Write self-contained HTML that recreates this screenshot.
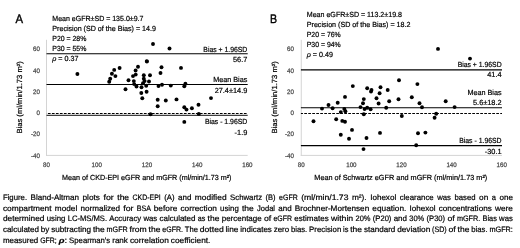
<!DOCTYPE html>
<html lang="en"><head><meta charset="utf-8"><title>Figure</title>
<style>
html,body{margin:0;padding:0;background:#fff;overflow:hidden;}
svg{display:block;font-family:"Liberation Sans", sans-serif;text-rendering:geometricPrecision;}
</style></head><body>
<svg width="520" height="248" viewBox="0 0 520 248">
<rect width="520" height="248" fill="#fff"/>
<line x1="46.5" y1="39.8" x2="46.5" y2="155.9" stroke="#d4d4d4" stroke-width="1"/>
<line x1="46.0" y1="155.4" x2="247.7" y2="155.4" stroke="#d4d4d4" stroke-width="1"/>
<text x="40" y="51.25" font-size="6.5" text-anchor="end" fill="#4a4a4a" stroke="#4a4a4a" stroke-width="0.25" textLength="6.89" lengthAdjust="spacingAndGlyphs">60</text>
<text x="40" y="72.55" font-size="6.5" text-anchor="end" fill="#4a4a4a" stroke="#4a4a4a" stroke-width="0.25" textLength="6.89" lengthAdjust="spacingAndGlyphs">40</text>
<text x="40" y="93.85" font-size="6.5" text-anchor="end" fill="#4a4a4a" stroke="#4a4a4a" stroke-width="0.25" textLength="6.89" lengthAdjust="spacingAndGlyphs">20</text>
<text x="40" y="115.15" font-size="6.5" text-anchor="end" fill="#4a4a4a" stroke="#4a4a4a" stroke-width="0.25" textLength="3.45" lengthAdjust="spacingAndGlyphs">0</text>
<text x="40" y="136.45" font-size="6.5" text-anchor="end" fill="#4a4a4a" stroke="#4a4a4a" stroke-width="0.25" textLength="8.98" lengthAdjust="spacingAndGlyphs">-20</text>
<text x="40" y="157.75" font-size="6.5" text-anchor="end" fill="#4a4a4a" stroke="#4a4a4a" stroke-width="0.25" textLength="8.98" lengthAdjust="spacingAndGlyphs">-40</text>
<text x="46.5" y="167.1" font-size="6.5" text-anchor="middle" fill="#4a4a4a" stroke="#4a4a4a" stroke-width="0.25" textLength="6.89" lengthAdjust="spacingAndGlyphs">80</text>
<text x="96.72" y="167.1" font-size="6.5" text-anchor="middle" fill="#4a4a4a" stroke="#4a4a4a" stroke-width="0.25" textLength="10.34" lengthAdjust="spacingAndGlyphs">100</text>
<text x="146.95" y="167.1" font-size="6.5" text-anchor="middle" fill="#4a4a4a" stroke="#4a4a4a" stroke-width="0.25" textLength="10.34" lengthAdjust="spacingAndGlyphs">120</text>
<text x="197.17" y="167.1" font-size="6.5" text-anchor="middle" fill="#4a4a4a" stroke="#4a4a4a" stroke-width="0.25" textLength="10.34" lengthAdjust="spacingAndGlyphs">140</text>
<text x="247.4" y="167.1" font-size="6.5" text-anchor="middle" fill="#4a4a4a" stroke="#4a4a4a" stroke-width="0.25" textLength="10.34" lengthAdjust="spacingAndGlyphs">160</text>
<text transform="translate(21.9,97.4) rotate(-90)" font-size="7.4" text-anchor="middle" stroke="#000" stroke-width="0.2" textLength="72.42" lengthAdjust="spacingAndGlyphs">Bias (ml/min/1.73 m²)</text>
<text x="146.8" y="180.1" font-size="7.4" text-anchor="middle" fill="#000" stroke="#000" stroke-width="0.2" textLength="169.36" lengthAdjust="spacingAndGlyphs">Mean of CKD-EPI eGFR and mGFR (ml/min/1.73 m²)</text>
<text x="15.4" y="22.8" font-size="12.3" text-anchor="start" fill="#000" stroke="#000" stroke-width="0.4" textLength="7.53" lengthAdjust="spacingAndGlyphs">A</text>
<text x="52.3" y="21.1" font-size="7.4" text-anchor="start" fill="#000" stroke="#000" stroke-width="0.2" textLength="91.14" lengthAdjust="spacingAndGlyphs">Mean eGFR±SD = 135.0±9.7</text>
<text x="52.3" y="31.1" font-size="7.4" text-anchor="start" fill="#000" stroke="#000" stroke-width="0.2" textLength="103.66" lengthAdjust="spacingAndGlyphs">Precision (SD of the Bias) = 14.9</text>
<text x="52.3" y="41.1" font-size="7.4" text-anchor="start" fill="#000" stroke="#000" stroke-width="0.2" textLength="34.02" lengthAdjust="spacingAndGlyphs">P20 = 28%</text>
<text x="52.3" y="51.1" font-size="7.4" text-anchor="start" fill="#000" stroke="#000" stroke-width="0.2" textLength="34.02" lengthAdjust="spacingAndGlyphs">P30 = 55%</text>
<text x="52.3" y="61.1" font-size="7.4" text-anchor="start" fill="#000" stroke="#000" stroke-width="0.2" textLength="26.12" lengthAdjust="spacingAndGlyphs"><tspan font-style="italic">ρ</tspan> = 0.37</text>
<line x1="46.5" y1="113.5" x2="247.7" y2="113.5" stroke="#000" stroke-width="1.1" stroke-dasharray="2.7 1.3" stroke-dashoffset="2.6"/>
<line x1="46.5" y1="53.75" x2="247.7" y2="53.75" stroke="#000" stroke-width="1.15"/>
<text x="247.29999999999998" y="52.0" font-size="7.4" text-anchor="end" fill="#000" stroke="#000" stroke-width="0.2" textLength="43.97" lengthAdjust="spacingAndGlyphs">Bias + 1.96SD</text>
<text x="247.29999999999998" y="61.6" font-size="7.4" text-anchor="end" fill="#000" stroke="#000" stroke-width="0.2" textLength="14.33" lengthAdjust="spacingAndGlyphs">56.7</text>
<line x1="46.5" y1="84.5" x2="247.7" y2="84.5" stroke="#000" stroke-width="1.15"/>
<text x="247.29999999999998" y="82.4" font-size="7.4" text-anchor="end" fill="#000" stroke="#000" stroke-width="0.2" textLength="34.16" lengthAdjust="spacingAndGlyphs">Mean Bias</text>
<text x="247.29999999999998" y="92.6" font-size="7.4" text-anchor="end" fill="#000" stroke="#000" stroke-width="0.2" textLength="32.67" lengthAdjust="spacingAndGlyphs">27.4±14.9</text>
<line x1="46.5" y1="115.3" x2="247.7" y2="115.3" stroke="#000" stroke-width="0.95"/>
<text x="247.29999999999998" y="124.3" font-size="7.4" text-anchor="end" fill="#000" stroke="#000" stroke-width="0.2" textLength="42.42" lengthAdjust="spacingAndGlyphs">Bias - 1.96SD</text>
<text x="247.29999999999998" y="134.8" font-size="7.4" text-anchor="end" fill="#000" stroke="#000" stroke-width="0.2" textLength="12.7" lengthAdjust="spacingAndGlyphs">-1.9</text>
<circle cx="146.9" cy="61.6" r="1.95"/>
<circle cx="138" cy="66.7" r="1.95"/>
<circle cx="119.6" cy="68.0" r="1.95"/>
<circle cx="114.2" cy="69.9" r="1.95"/>
<circle cx="77.4" cy="74.0" r="1.95"/>
<circle cx="111.9" cy="73.7" r="1.95"/>
<circle cx="135.6" cy="70.5" r="1.95"/>
<circle cx="115.4" cy="76.1" r="1.95"/>
<circle cx="110.2" cy="78.8" r="1.95"/>
<circle cx="109.2" cy="81.8" r="1.95"/>
<circle cx="135.7" cy="74.6" r="1.95"/>
<circle cx="133" cy="76.1" r="1.95"/>
<circle cx="128.5" cy="80.3" r="1.95"/>
<circle cx="133.8" cy="81.1" r="1.95"/>
<circle cx="134.2" cy="84.1" r="1.95"/>
<circle cx="136.5" cy="86.5" r="1.95"/>
<circle cx="125.5" cy="89.2" r="1.95"/>
<circle cx="143.8" cy="75.3" r="1.95"/>
<circle cx="143.8" cy="78.8" r="1.95"/>
<circle cx="144.6" cy="81.1" r="1.95"/>
<circle cx="143" cy="83.3" r="1.95"/>
<circle cx="146.2" cy="85.7" r="1.95"/>
<circle cx="141.5" cy="87.3" r="1.95"/>
<circle cx="141.3" cy="93.0" r="1.95"/>
<circle cx="146.6" cy="91.8" r="1.95"/>
<circle cx="150" cy="75.3" r="1.95"/>
<circle cx="149" cy="81.5" r="1.95"/>
<circle cx="161.5" cy="67.3" r="1.95"/>
<circle cx="160.5" cy="73.0" r="1.95"/>
<circle cx="158.5" cy="86.1" r="1.95"/>
<circle cx="162" cy="84.7" r="1.95"/>
<circle cx="170.8" cy="85.6" r="1.95"/>
<circle cx="181" cy="67.9" r="1.95"/>
<circle cx="142.3" cy="98.3" r="1.95"/>
<circle cx="185.4" cy="83.7" r="1.95"/>
<circle cx="184.3" cy="86.3" r="1.95"/>
<circle cx="157.7" cy="99.8" r="1.95"/>
<circle cx="165.8" cy="100.5" r="1.95"/>
<circle cx="176.5" cy="99.4" r="1.95"/>
<circle cx="157.7" cy="106.3" r="1.95"/>
<circle cx="184.3" cy="107.2" r="1.95"/>
<circle cx="186.5" cy="109.6" r="1.95"/>
<circle cx="191.9" cy="108.2" r="1.95"/>
<circle cx="198.5" cy="104.7" r="1.95"/>
<circle cx="150.5" cy="114.3" r="1.95"/>
<circle cx="198.8" cy="113.9" r="1.95"/>
<circle cx="184.3" cy="121.9" r="1.95"/>
<circle cx="211" cy="98.1" r="1.95"/>
<circle cx="153" cy="44.05" r="1.95"/>
<circle cx="169.5" cy="48.5" r="1.95"/>
<circle cx="146.8" cy="61.1" r="1.95"/>
<line x1="301.25" y1="39.8" x2="301.25" y2="155.9" stroke="#d4d4d4" stroke-width="1"/>
<line x1="300.75" y1="155.4" x2="502.0" y2="155.4" stroke="#d4d4d4" stroke-width="1"/>
<text x="294" y="51.25" font-size="6.5" text-anchor="end" fill="#4a4a4a" stroke="#4a4a4a" stroke-width="0.25" textLength="6.89" lengthAdjust="spacingAndGlyphs">60</text>
<text x="294" y="72.55" font-size="6.5" text-anchor="end" fill="#4a4a4a" stroke="#4a4a4a" stroke-width="0.25" textLength="6.89" lengthAdjust="spacingAndGlyphs">40</text>
<text x="294" y="93.85" font-size="6.5" text-anchor="end" fill="#4a4a4a" stroke="#4a4a4a" stroke-width="0.25" textLength="6.89" lengthAdjust="spacingAndGlyphs">20</text>
<text x="294" y="115.15" font-size="6.5" text-anchor="end" fill="#4a4a4a" stroke="#4a4a4a" stroke-width="0.25" textLength="3.45" lengthAdjust="spacingAndGlyphs">0</text>
<text x="294" y="136.45" font-size="6.5" text-anchor="end" fill="#4a4a4a" stroke="#4a4a4a" stroke-width="0.25" textLength="8.98" lengthAdjust="spacingAndGlyphs">-20</text>
<text x="294" y="157.75" font-size="6.5" text-anchor="end" fill="#4a4a4a" stroke="#4a4a4a" stroke-width="0.25" textLength="8.98" lengthAdjust="spacingAndGlyphs">-40</text>
<text x="301.25" y="167.1" font-size="6.5" text-anchor="middle" fill="#4a4a4a" stroke="#4a4a4a" stroke-width="0.25" textLength="6.89" lengthAdjust="spacingAndGlyphs">80</text>
<text x="351.36" y="167.1" font-size="6.5" text-anchor="middle" fill="#4a4a4a" stroke="#4a4a4a" stroke-width="0.25" textLength="10.34" lengthAdjust="spacingAndGlyphs">100</text>
<text x="401.48" y="167.1" font-size="6.5" text-anchor="middle" fill="#4a4a4a" stroke="#4a4a4a" stroke-width="0.25" textLength="10.34" lengthAdjust="spacingAndGlyphs">120</text>
<text x="451.59" y="167.1" font-size="6.5" text-anchor="middle" fill="#4a4a4a" stroke="#4a4a4a" stroke-width="0.25" textLength="10.34" lengthAdjust="spacingAndGlyphs">140</text>
<text x="501.7" y="167.1" font-size="6.5" text-anchor="middle" fill="#4a4a4a" stroke="#4a4a4a" stroke-width="0.25" textLength="10.34" lengthAdjust="spacingAndGlyphs">160</text>
<text transform="translate(276.65,97.4) rotate(-90)" font-size="7.4" text-anchor="middle" stroke="#000" stroke-width="0.2" textLength="72.42" lengthAdjust="spacingAndGlyphs">Bias (ml/min/1.73 m²)</text>
<text x="400.8" y="180.1" font-size="7.4" text-anchor="middle" fill="#000" stroke="#000" stroke-width="0.2" textLength="172.98" lengthAdjust="spacingAndGlyphs">Mean of Schwartz eGFR and mGFR (ml/min/1.73 m²)</text>
<text x="270" y="22.8" font-size="12.3" text-anchor="start" fill="#000" stroke="#000" stroke-width="0.4" textLength="7.08" lengthAdjust="spacingAndGlyphs">B</text>
<text x="306.75" y="17.3" font-size="7.4" text-anchor="start" fill="#000" stroke="#000" stroke-width="0.2" textLength="95.23" lengthAdjust="spacingAndGlyphs">Mean eGFR±SD = 113.2±19.8</text>
<text x="306.75" y="27.3" font-size="7.4" text-anchor="start" fill="#000" stroke="#000" stroke-width="0.2" textLength="103.66" lengthAdjust="spacingAndGlyphs">Precision (SD of the Bias) = 18.2</text>
<text x="306.75" y="37.3" font-size="7.4" text-anchor="start" fill="#000" stroke="#000" stroke-width="0.2" textLength="34.02" lengthAdjust="spacingAndGlyphs">P20 = 76%</text>
<text x="306.75" y="47.3" font-size="7.4" text-anchor="start" fill="#000" stroke="#000" stroke-width="0.2" textLength="34.02" lengthAdjust="spacingAndGlyphs">P30 = 94%</text>
<text x="306.75" y="57.3" font-size="7.4" text-anchor="start" fill="#000" stroke="#000" stroke-width="0.2" textLength="26.12" lengthAdjust="spacingAndGlyphs"><tspan font-style="italic">ρ</tspan> = 0.49</text>
<line x1="300.9" y1="113.5" x2="502.0" y2="113.5" stroke="#000" stroke-width="1.1" stroke-dasharray="2.7 1.3" stroke-dashoffset="0.65"/>
<line x1="300.9" y1="69.83" x2="502.0" y2="69.83" stroke="#000" stroke-width="1.15"/>
<text x="501.6" y="66.6" font-size="7.4" text-anchor="end" fill="#000" stroke="#000" stroke-width="0.2" textLength="43.97" lengthAdjust="spacingAndGlyphs">Bias + 1.96SD</text>
<text x="501.6" y="76.9" font-size="7.4" text-anchor="end" fill="#000" stroke="#000" stroke-width="0.2" textLength="14.33" lengthAdjust="spacingAndGlyphs">41.4</text>
<line x1="300.9" y1="107.74" x2="502.0" y2="107.74" stroke="#000" stroke-width="1.15"/>
<text x="501.6" y="95.4" font-size="7.4" text-anchor="end" fill="#000" stroke="#000" stroke-width="0.2" textLength="34.16" lengthAdjust="spacingAndGlyphs">Mean Bias</text>
<text x="501.6" y="105.4" font-size="7.4" text-anchor="end" fill="#000" stroke="#000" stroke-width="0.2" textLength="28.58" lengthAdjust="spacingAndGlyphs">5.6±18.2</text>
<line x1="300.9" y1="145.6" x2="502.0" y2="145.6" stroke="#000" stroke-width="1.15"/>
<text x="501.6" y="143.2" font-size="7.4" text-anchor="end" fill="#000" stroke="#000" stroke-width="0.2" textLength="42.42" lengthAdjust="spacingAndGlyphs">Bias - 1.96SD</text>
<text x="501.6" y="153.8" font-size="7.4" text-anchor="end" fill="#000" stroke="#000" stroke-width="0.2" textLength="16.8" lengthAdjust="spacingAndGlyphs">-30.1</text>
<circle cx="352.8" cy="86.1" r="1.95"/>
<circle cx="367.2" cy="88.3" r="1.95"/>
<circle cx="371.5" cy="90.0" r="1.95"/>
<circle cx="371" cy="91.6" r="1.95"/>
<circle cx="345" cy="96.9" r="1.95"/>
<circle cx="363.8" cy="99.1" r="1.95"/>
<circle cx="376.5" cy="98.3" r="1.95"/>
<circle cx="337.7" cy="102.7" r="1.95"/>
<circle cx="363" cy="103.2" r="1.95"/>
<circle cx="328.5" cy="105.0" r="1.95"/>
<circle cx="379.6" cy="93.3" r="1.95"/>
<circle cx="378.6" cy="103.5" r="1.95"/>
<circle cx="380.5" cy="87.3" r="1.95"/>
<circle cx="322" cy="108.6" r="1.95"/>
<circle cx="332.6" cy="108.3" r="1.95"/>
<circle cx="344.3" cy="108.9" r="1.95"/>
<circle cx="360.5" cy="107.1" r="1.95"/>
<circle cx="367.2" cy="107.8" r="1.95"/>
<circle cx="364.6" cy="109.1" r="1.95"/>
<circle cx="370.6" cy="109.3" r="1.95"/>
<circle cx="345.4" cy="111.3" r="1.95"/>
<circle cx="340.8" cy="112.1" r="1.95"/>
<circle cx="363.8" cy="114.3" r="1.95"/>
<circle cx="313.5" cy="121.3" r="1.95"/>
<circle cx="336.2" cy="119.3" r="1.95"/>
<circle cx="342.3" cy="120.9" r="1.95"/>
<circle cx="345" cy="121.7" r="1.95"/>
<circle cx="352" cy="129.9" r="1.95"/>
<circle cx="340.8" cy="134.8" r="1.95"/>
<circle cx="380" cy="132.9" r="1.95"/>
<circle cx="349" cy="138.8" r="1.95"/>
<circle cx="366.5" cy="138.0" r="1.95"/>
<circle cx="363.5" cy="149.1" r="1.95"/>
<circle cx="399" cy="80.3" r="1.95"/>
<circle cx="417.4" cy="84.1" r="1.95"/>
<circle cx="387.7" cy="90.0" r="1.95"/>
<circle cx="411.8" cy="97.3" r="1.95"/>
<circle cx="398.5" cy="99.3" r="1.95"/>
<circle cx="389.2" cy="101.3" r="1.95"/>
<circle cx="419.5" cy="103.2" r="1.95"/>
<circle cx="445.7" cy="101.3" r="1.95"/>
<circle cx="386.2" cy="107.8" r="1.95"/>
<circle cx="422" cy="107.3" r="1.95"/>
<circle cx="401.8" cy="116.0" r="1.95"/>
<circle cx="436.2" cy="113.8" r="1.95"/>
<circle cx="434.6" cy="117.7" r="1.95"/>
<circle cx="418" cy="133.3" r="1.95"/>
<circle cx="425.4" cy="132.6" r="1.95"/>
<circle cx="416.2" cy="145.3" r="1.95"/>
<circle cx="438" cy="48.9" r="1.95"/>
<circle cx="470" cy="58.6" r="1.95"/>
<circle cx="454.6" cy="107.1" r="1.95"/>
<text y="199.9" font-size="7.9" fill="#000" stroke="#000" stroke-width="0.2"><tspan x="2.9" textLength="24.23" lengthAdjust="spacingAndGlyphs">Figure.</tspan> <tspan x="30.64" textLength="48.36" lengthAdjust="spacingAndGlyphs">Bland-Altman</tspan> <tspan x="82.5" textLength="17.48" lengthAdjust="spacingAndGlyphs">plots</tspan> <tspan x="103.49" textLength="10.28" lengthAdjust="spacingAndGlyphs">for</tspan> <tspan x="117.27" textLength="11.83" lengthAdjust="spacingAndGlyphs">the</tspan> <tspan x="132.6" textLength="28.12" lengthAdjust="spacingAndGlyphs">CKD-EPI</tspan> <tspan x="164.23" textLength="10.33" lengthAdjust="spacingAndGlyphs">(A)</tspan> <tspan x="178.06" textLength="13.33" lengthAdjust="spacingAndGlyphs">and</tspan> <tspan x="194.89" textLength="31.67" lengthAdjust="spacingAndGlyphs">modified</tspan> <tspan x="230.07" textLength="32.03" lengthAdjust="spacingAndGlyphs">Schwartz</tspan> <tspan x="265.6" textLength="10.02" lengthAdjust="spacingAndGlyphs">(B)</tspan> <tspan x="279.12" textLength="18.55" lengthAdjust="spacingAndGlyphs">eGFR</tspan> <tspan x="301.17" textLength="47.27" lengthAdjust="spacingAndGlyphs">(ml/min/1.73</tspan> <tspan x="351.94" textLength="14.72" lengthAdjust="spacingAndGlyphs">m²).</tspan> <tspan x="370.16" textLength="26.05" lengthAdjust="spacingAndGlyphs">Iohexol</tspan> <tspan x="399.71" textLength="33.97" lengthAdjust="spacingAndGlyphs">clearance</tspan> <tspan x="437.18" textLength="13.8" lengthAdjust="spacingAndGlyphs">was</tspan> <tspan x="454.48" textLength="21.06" lengthAdjust="spacingAndGlyphs">based</tspan> <tspan x="479.05" textLength="9.17" lengthAdjust="spacingAndGlyphs">on</tspan> <tspan x="491.73" textLength="4.17" lengthAdjust="spacingAndGlyphs">a</tspan> <tspan x="499.4" textLength="13.5" lengthAdjust="spacingAndGlyphs">one</tspan></text>
<text y="210.65" font-size="7.9" fill="#000" stroke="#000" stroke-width="0.2"><tspan x="2.9" textLength="48.69" lengthAdjust="spacingAndGlyphs">compartment</tspan> <tspan x="54.78" textLength="22.45" lengthAdjust="spacingAndGlyphs">model</tspan> <tspan x="80.43" textLength="39.66" lengthAdjust="spacingAndGlyphs">normalized</tspan> <tspan x="123.28" textLength="10.28" lengthAdjust="spacingAndGlyphs">for</tspan> <tspan x="136.76" textLength="13.78" lengthAdjust="spacingAndGlyphs">BSA</tspan> <tspan x="153.74" textLength="23.52" lengthAdjust="spacingAndGlyphs">before</tspan> <tspan x="180.45" textLength="36.44" lengthAdjust="spacingAndGlyphs">correction</tspan> <tspan x="220.08" textLength="18.66" lengthAdjust="spacingAndGlyphs">using</tspan> <tspan x="241.94" textLength="11.83" lengthAdjust="spacingAndGlyphs">the</tspan> <tspan x="256.96" textLength="18.11" lengthAdjust="spacingAndGlyphs">Jodal</tspan> <tspan x="278.26" textLength="13.33" lengthAdjust="spacingAndGlyphs">and</tspan> <tspan x="294.79" textLength="74.41" lengthAdjust="spacingAndGlyphs">Brochner-Mortensen</tspan> <tspan x="372.39" textLength="33.92" lengthAdjust="spacingAndGlyphs">equation.</tspan> <tspan x="409.51" textLength="26.05" lengthAdjust="spacingAndGlyphs">Iohexol</tspan> <tspan x="438.75" textLength="53.03" lengthAdjust="spacingAndGlyphs">concentrations</tspan> <tspan x="494.98" textLength="17.92" lengthAdjust="spacingAndGlyphs">were</tspan></text>
<text y="221.4" font-size="7.9" fill="#000" stroke="#000" stroke-width="0.2"><tspan x="2.9" textLength="41.61" lengthAdjust="spacingAndGlyphs">determined</tspan> <tspan x="46.76" textLength="18.66" lengthAdjust="spacingAndGlyphs">using</tspan> <tspan x="67.67" textLength="39.41" lengthAdjust="spacingAndGlyphs">LC-MS/MS.</tspan> <tspan x="109.33" textLength="31.8" lengthAdjust="spacingAndGlyphs">Accuracy</tspan> <tspan x="143.38" textLength="13.8" lengthAdjust="spacingAndGlyphs">was</tspan> <tspan x="159.43" textLength="36.09" lengthAdjust="spacingAndGlyphs">calculated</tspan> <tspan x="197.78" textLength="7.58" lengthAdjust="spacingAndGlyphs">as</tspan> <tspan x="207.61" textLength="11.83" lengthAdjust="spacingAndGlyphs">the</tspan> <tspan x="221.7" textLength="40.03" lengthAdjust="spacingAndGlyphs">percentage</tspan> <tspan x="263.98" textLength="7.25" lengthAdjust="spacingAndGlyphs">of</tspan> <tspan x="273.48" textLength="18.55" lengthAdjust="spacingAndGlyphs">eGFR</tspan> <tspan x="294.28" textLength="34.42" lengthAdjust="spacingAndGlyphs">estimates</tspan> <tspan x="330.96" textLength="22.28" lengthAdjust="spacingAndGlyphs">within</tspan> <tspan x="355.5" textLength="15.05" lengthAdjust="spacingAndGlyphs">20%</tspan> <tspan x="372.8" textLength="18.61" lengthAdjust="spacingAndGlyphs">(P20)</tspan> <tspan x="393.66" textLength="13.33" lengthAdjust="spacingAndGlyphs">and</tspan> <tspan x="409.24" textLength="15.05" lengthAdjust="spacingAndGlyphs">30%</tspan> <tspan x="426.54" textLength="18.61" lengthAdjust="spacingAndGlyphs">(P30)</tspan> <tspan x="447.4" textLength="7.25" lengthAdjust="spacingAndGlyphs">of</tspan> <tspan x="456.91" textLength="23.38" lengthAdjust="spacingAndGlyphs">mGFR.</tspan> <tspan x="482.54" textLength="14.31" lengthAdjust="spacingAndGlyphs">Bias</tspan> <tspan x="499.1" textLength="13.8" lengthAdjust="spacingAndGlyphs">was</tspan></text>
<text y="232.15" font-size="7.9" fill="#000" stroke="#000" stroke-width="0.2"><tspan x="2.9" textLength="36.09" lengthAdjust="spacingAndGlyphs">calculated</tspan> <tspan x="40.81" textLength="8.52" lengthAdjust="spacingAndGlyphs">by</tspan> <tspan x="51.15" textLength="39.94" lengthAdjust="spacingAndGlyphs">subtracting</tspan> <tspan x="92.91" textLength="11.83" lengthAdjust="spacingAndGlyphs">the</tspan> <tspan x="106.56" textLength="21.17" lengthAdjust="spacingAndGlyphs">mGFR</tspan> <tspan x="129.55" textLength="17.23" lengthAdjust="spacingAndGlyphs">from</tspan> <tspan x="148.61" textLength="11.83" lengthAdjust="spacingAndGlyphs">the</tspan> <tspan x="162.25" textLength="20.75" lengthAdjust="spacingAndGlyphs">eGFR.</tspan> <tspan x="184.82" textLength="13.16" lengthAdjust="spacingAndGlyphs">The</tspan> <tspan x="199.8" textLength="23.91" lengthAdjust="spacingAndGlyphs">dotted</tspan> <tspan x="225.53" textLength="12.91" lengthAdjust="spacingAndGlyphs">line</tspan> <tspan x="240.26" textLength="31.64" lengthAdjust="spacingAndGlyphs">indicates</tspan> <tspan x="273.72" textLength="15.41" lengthAdjust="spacingAndGlyphs">zero</tspan> <tspan x="290.94" textLength="16.34" lengthAdjust="spacingAndGlyphs">bias.</tspan> <tspan x="309.11" textLength="32.11" lengthAdjust="spacingAndGlyphs">Precision</tspan> <tspan x="343.04" textLength="5.41" lengthAdjust="spacingAndGlyphs">is</tspan> <tspan x="350.26" textLength="11.83" lengthAdjust="spacingAndGlyphs">the</tspan> <tspan x="363.91" textLength="31.42" lengthAdjust="spacingAndGlyphs">standard</tspan> <tspan x="397.16" textLength="33.08" lengthAdjust="spacingAndGlyphs">deviation</tspan> <tspan x="432.05" textLength="14.64" lengthAdjust="spacingAndGlyphs">(SD)</tspan> <tspan x="448.52" textLength="7.25" lengthAdjust="spacingAndGlyphs">of</tspan> <tspan x="457.59" textLength="11.83" lengthAdjust="spacingAndGlyphs">the</tspan> <tspan x="471.24" textLength="16.34" lengthAdjust="spacingAndGlyphs">bias.</tspan> <tspan x="489.4" textLength="23.5" lengthAdjust="spacingAndGlyphs">mGFR:</tspan></text>
<text y="242.9" font-size="7.9" fill="#000" stroke="#000" stroke-width="0.2"><tspan x="2.9" textLength="35.38" lengthAdjust="spacingAndGlyphs">measured</tspan> <tspan x="40.24" textLength="16.55" lengthAdjust="spacingAndGlyphs">GFR;</tspan> <tspan x="58.76" textLength="8.38" lengthAdjust="spacingAndGlyphs"><tspan font-style="italic" font-weight="bold">&#961;</tspan>:</tspan> <tspan x="69.11" textLength="41.12" lengthAdjust="spacingAndGlyphs">Spearman's</tspan> <tspan x="112.2" textLength="15.73" lengthAdjust="spacingAndGlyphs">rank</tspan> <tspan x="129.91" textLength="38.92" lengthAdjust="spacingAndGlyphs">correlation</tspan> <tspan x="170.8" textLength="39.61" lengthAdjust="spacingAndGlyphs">coefficient.</tspan></text>
</svg>
</body></html>
